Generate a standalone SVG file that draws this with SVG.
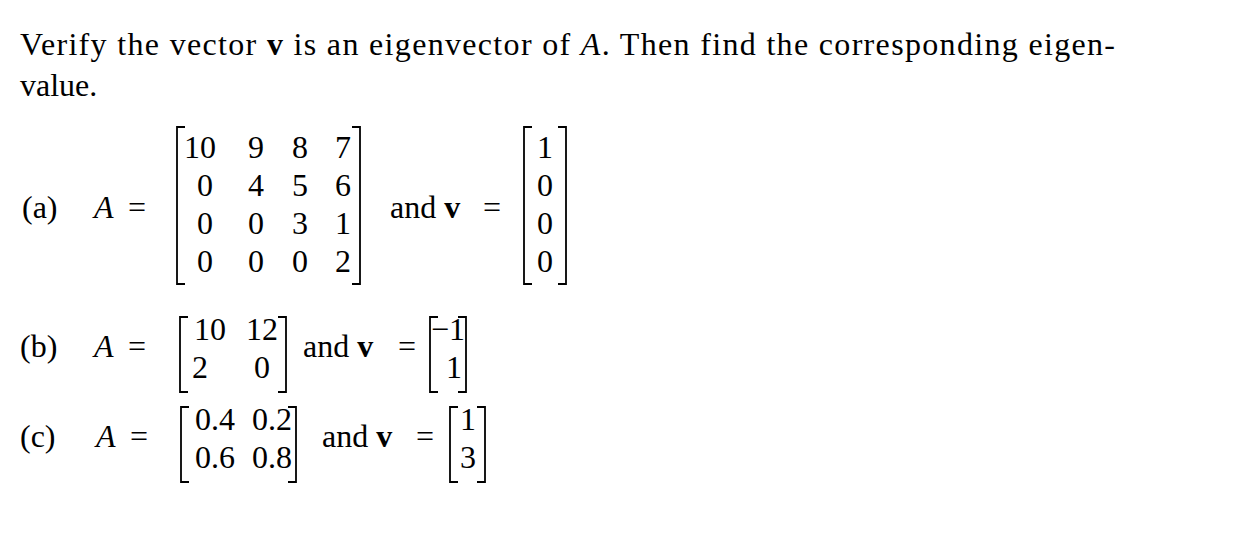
<svg xmlns="http://www.w3.org/2000/svg" width="1248" height="540" viewBox="0 0 1248 540">
<style>
text{font-family:"Liberation Serif",serif;font-size:32px;fill:#000}
.i{font-style:italic}
.b{font-weight:bold}
.m{text-anchor:middle}
.br{fill:none;stroke:#000;stroke-width:1.8}
</style>
<rect width="1248" height="540" fill="#fff"/>
<text x="20" y="55" textLength="1095">Verify the vector <tspan class="b">v</tspan> is an eigenvector of <tspan class="i">A</tspan>. Then find the corresponding eigen-</text>
<text x="20" y="96">value.</text>
<g id="a">
<text x="22" y="218">(a)</text><text x="94" y="218" class="i">A</text><text x="128" y="218" textLength="22">=</text>
<path class="br" d="M185,127 H177 V284 H185 M352,127 H360 V284 H352"/>
<g class="m">
<text x="200" y="158">10</text><text x="256" y="158">9</text><text x="300" y="158">8</text><text x="343" y="158">7</text>
<text x="205" y="196">0</text><text x="256" y="196">4</text><text x="300" y="196">5</text><text x="343" y="196">6</text>
<text x="205" y="234">0</text><text x="256" y="234">0</text><text x="300" y="234">3</text><text x="343" y="234">1</text>
<text x="205" y="272">0</text><text x="256" y="272">0</text><text x="300" y="272">0</text><text x="343" y="272">2</text>
</g>
<text x="390" y="218">and <tspan class="b">v</tspan></text><text x="483" y="218" textLength="22">=</text>
<path class="br" d="M532,127 H524 V284 H532 M558,127 H566 V284 H558"/>
<g class="m"><text x="545" y="158">1</text><text x="545" y="196">0</text><text x="545" y="234">0</text><text x="545" y="272">0</text></g>
</g>
<g id="b">
<text x="20" y="357">(b)</text><text x="94" y="357" class="i">A</text><text x="128" y="357" textLength="22">=</text>
<path class="br" d="M188,317 H180 V392 H188 M278,317 H286 V392 H278"/>
<g class="m"><text x="210" y="340">10</text><text x="262" y="340">12</text><text x="200" y="378">2</text><text x="262" y="378">0</text></g>
<text x="303" y="357">and <tspan class="b">v</tspan></text><text x="398" y="357" textLength="22">=</text>
<path class="br" d="M438,317 H430 V392 H438 M458,317 H466 V392 H458"/>
<g class="m"><text x="448" y="340" font-size="28">−1</text><text x="454" y="378">1</text></g>
</g>
<g id="c">
<text x="20" y="447">(c)</text><text x="96" y="447" class="i">A</text><text x="130" y="447" textLength="22">=</text>
<path class="br" d="M189,407 H181 V482 H189 M288,407 H296 V482 H288"/>
<g class="m"><text x="215" y="430">0.4</text><text x="272" y="430">0.2</text><text x="215" y="468">0.6</text><text x="272" y="468">0.8</text></g>
<text x="322" y="447">and <tspan class="b">v</tspan></text><text x="416" y="447" textLength="22">=</text>
<path class="br" d="M458,407 H450 V482 H458 M477,407 H485 V482 H477"/>
<g class="m"><text x="468" y="430">1</text><text x="468" y="468">3</text></g>
</g>
</svg>
